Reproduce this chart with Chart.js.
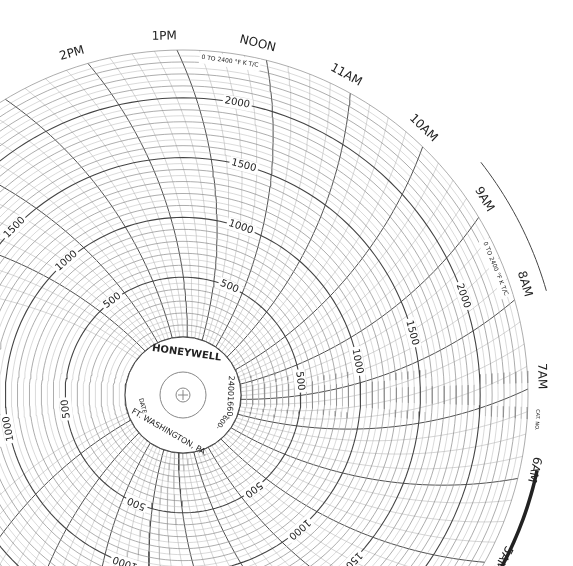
<!DOCTYPE html>
<html>
<head>
<meta charset="utf-8">
<script src="https://cdn.jsdelivr.net/npm/chart.js@4"></script>
<style>
    html, body { margin: 0; padding: 0; background: #fff; }
    #wrap { width: 573px; height: 566px; }
</style>
</head>
<body>
<div id="wrap"><canvas id="paper"></canvas></div>
<script>
// Chart data
const hourLabels = ['4PM', '3PM', '2PM', '1PM', 'NOON', '11AM', '10AM', '9AM', '8AM', '7AM', '6AM', '5AM', '4AM'];
const hourAngles = [-46, -31, -16, -1, 14, 29, 44, 59, 74, 89, 104, 119, 134]; // degrees clockwise from top, at rim
const rangeMin = 0;
const rangeMax = 2400;
const ringStep = 50;
const scaleLabels = [500, 1000, 1500, 2000];
const labelLineAngles = [7, 67, 127, 187, 247, 307];
const rangeText = '0 TO 2400 °F K T/C';

// geometry (pixels)
const CX = 183, CY = 395;
const R_IN = 58, R_OUT = 345, ARM = 420;

const rad = d => d * Math.PI / 180;
const valueToR = v => R_IN + (v - rangeMin) * (R_OUT - R_IN) / (rangeMax - rangeMin);
// time lines are arcs of the pen arm, bending clockwise toward the hub
const arcAngle = (rimDeg, r) => rimDeg + (Math.acos(r / (2 * ARM)) - Math.acos(R_OUT / (2 * ARM))) * 180 / Math.PI;
const polar = (r, deg) => ({ x: r * Math.sin(rad(deg)), y: r * Math.cos(rad(deg)) });

const datasets = [];

// rings
for (let v = rangeMin; v <= rangeMax; v += ringStep) {
    const r = valueToR(v);
    const pts = [];
    for (let a = 0; a <= 360; a += 2) pts.push(polar(r, a));
    const major = v % 500 === 0, mid = v % 100 === 0;
    datasets.push({
        data: pts,
        borderColor: major ? '#444' : (mid ? '#8a8a8a' : '#b4b4b4'),
        borderWidth: major ? 1.1 : (mid ? 0.7 : 0.5),
    });
}

// time lines, every 15 minutes
for (let q = -40; q < 56; q++) {
    const rim = 89 + q * 3.75;
    const pts = [];
    for (let r = R_IN; r <= R_OUT; r += 6) pts.push(polar(r, arcAngle(rim, r)));
    pts.push(polar(R_OUT, rim));
    const hour = q % 4 === 0;
    datasets.push({
        data: pts,
        borderColor: hour ? '#505050' : '#ababab',
        borderWidth: hour ? 1 : 0.5,
    });
}

// outer marks beyond the rim
const outerArc = [];
for (let a = 52; a <= 74; a += 1) outerArc.push(polar(378, a));
datasets.push({ data: outerArc, borderColor: '#444', borderWidth: 1 });
const penArc = [];
for (let a = 102; a <= 121; a += 1) penArc.push(polar(362, a));
datasets.push({ data: penArc, borderColor: '#222', borderWidth: 3.5 });

const paperText = {
    id: 'paperText',
    afterDatasetsDraw(chart) {
        const { ctx, scales: { x, y } } = chart;
        const px = p => x.getPixelForValue(p.x);
        const py = p => y.getPixelForValue(p.y);
        const cx = x.getPixelForValue(0), cy = y.getPixelForValue(0);

        const text = (str, p, deg, font, bg) => {
            ctx.save();
            ctx.translate(px(p), py(p));
            ctx.rotate(rad(deg));
            ctx.font = font;
            ctx.textAlign = 'center';
            ctx.textBaseline = 'middle';
            if (bg) {
                const w = ctx.measureText(str).width + 4;
                ctx.fillStyle = '#fff';
                ctx.fillRect(-w / 2, -6, w, 12);
            }
            ctx.fillStyle = '#222';
            ctx.fillText(str, 0, 0);
            ctx.restore();
        };

        // hub
        ctx.save();
        ctx.fillStyle = '#fff';
        ctx.strokeStyle = '#444';
        ctx.lineWidth = 1;
        ctx.beginPath(); ctx.arc(cx, cy, R_IN, 0, Math.PI * 2); ctx.fill(); ctx.stroke();
        ctx.strokeStyle = '#888';
        ctx.beginPath(); ctx.arc(cx, cy, 23, 0, Math.PI * 2); ctx.stroke();
        ctx.beginPath(); ctx.arc(cx, cy, 7, 0, Math.PI * 2); ctx.stroke();
        ctx.beginPath(); ctx.moveTo(cx - 5, cy); ctx.lineTo(cx + 5, cy); ctx.moveTo(cx, cy - 5); ctx.lineTo(cx, cy + 5); ctx.stroke();
        ctx.restore();
        text('HONEYWELL', polar(42, 5), 8, 'bold 10px "DejaVu Sans"');
        text('FT. WASHINGTON, PA.', polar(40, 200), 30, '8px "DejaVu Sans"');
        text('DATE', polar(42, 255), 75, '6px "DejaVu Sans"');
        text('24001660-', polar(47, 93), 93, '8px "DejaVu Sans"');
        text('600-', polar(47, 125), 125, '7px "DejaVu Sans"');

        // hour labels
        hourLabels.forEach((h, i) => {
            const a = hourAngles[i];
            text(h, polar(R_OUT + 14, a - 2), a, '12px "DejaVu Sans"');
        });

        // value labels along time arcs
        labelLineAngles.forEach(rim => {
            scaleLabels.forEach(v => {
                const r = valueToR(v);
                const a = arcAngle(rim, r);
                text(String(v), polar(r, a), a, '10px "DejaVu Sans"', true);
            });
        });

        // range legend under the rim
        [7, 67].forEach(rim => {
            text(rangeText, polar(R_OUT - 8, rim + 1), rim + 1, '6px "DejaVu Sans"', true);
        });
        text('CAT. NO.', polar(R_OUT + 10, 94), 94, '5px "DejaVu Sans"');
    }
};

const ctx = document.getElementById('paper');
new Chart(ctx, {
    type: 'scatter',
    data: {
        datasets: datasets.map(d => ({ ...d, showLine: true, pointRadius: 0, fill: false, tension: 0 })),
    },
    options: {
        responsive: true,
        maintainAspectRatio: false,
        animation: false,
        parsing: false,
        events: [],
        layout: { padding: 0 },
        scales: {
            x: { type: 'linear', display: false, min: -CX, max: 573 - CX },
            y: { type: 'linear', display: false, min: CY - 566, max: CY },
        },
        plugins: {
            legend: { display: false },
            tooltip: { enabled: false },
        },
    },
    plugins: [paperText],
});
</script>
</body>
</html>
